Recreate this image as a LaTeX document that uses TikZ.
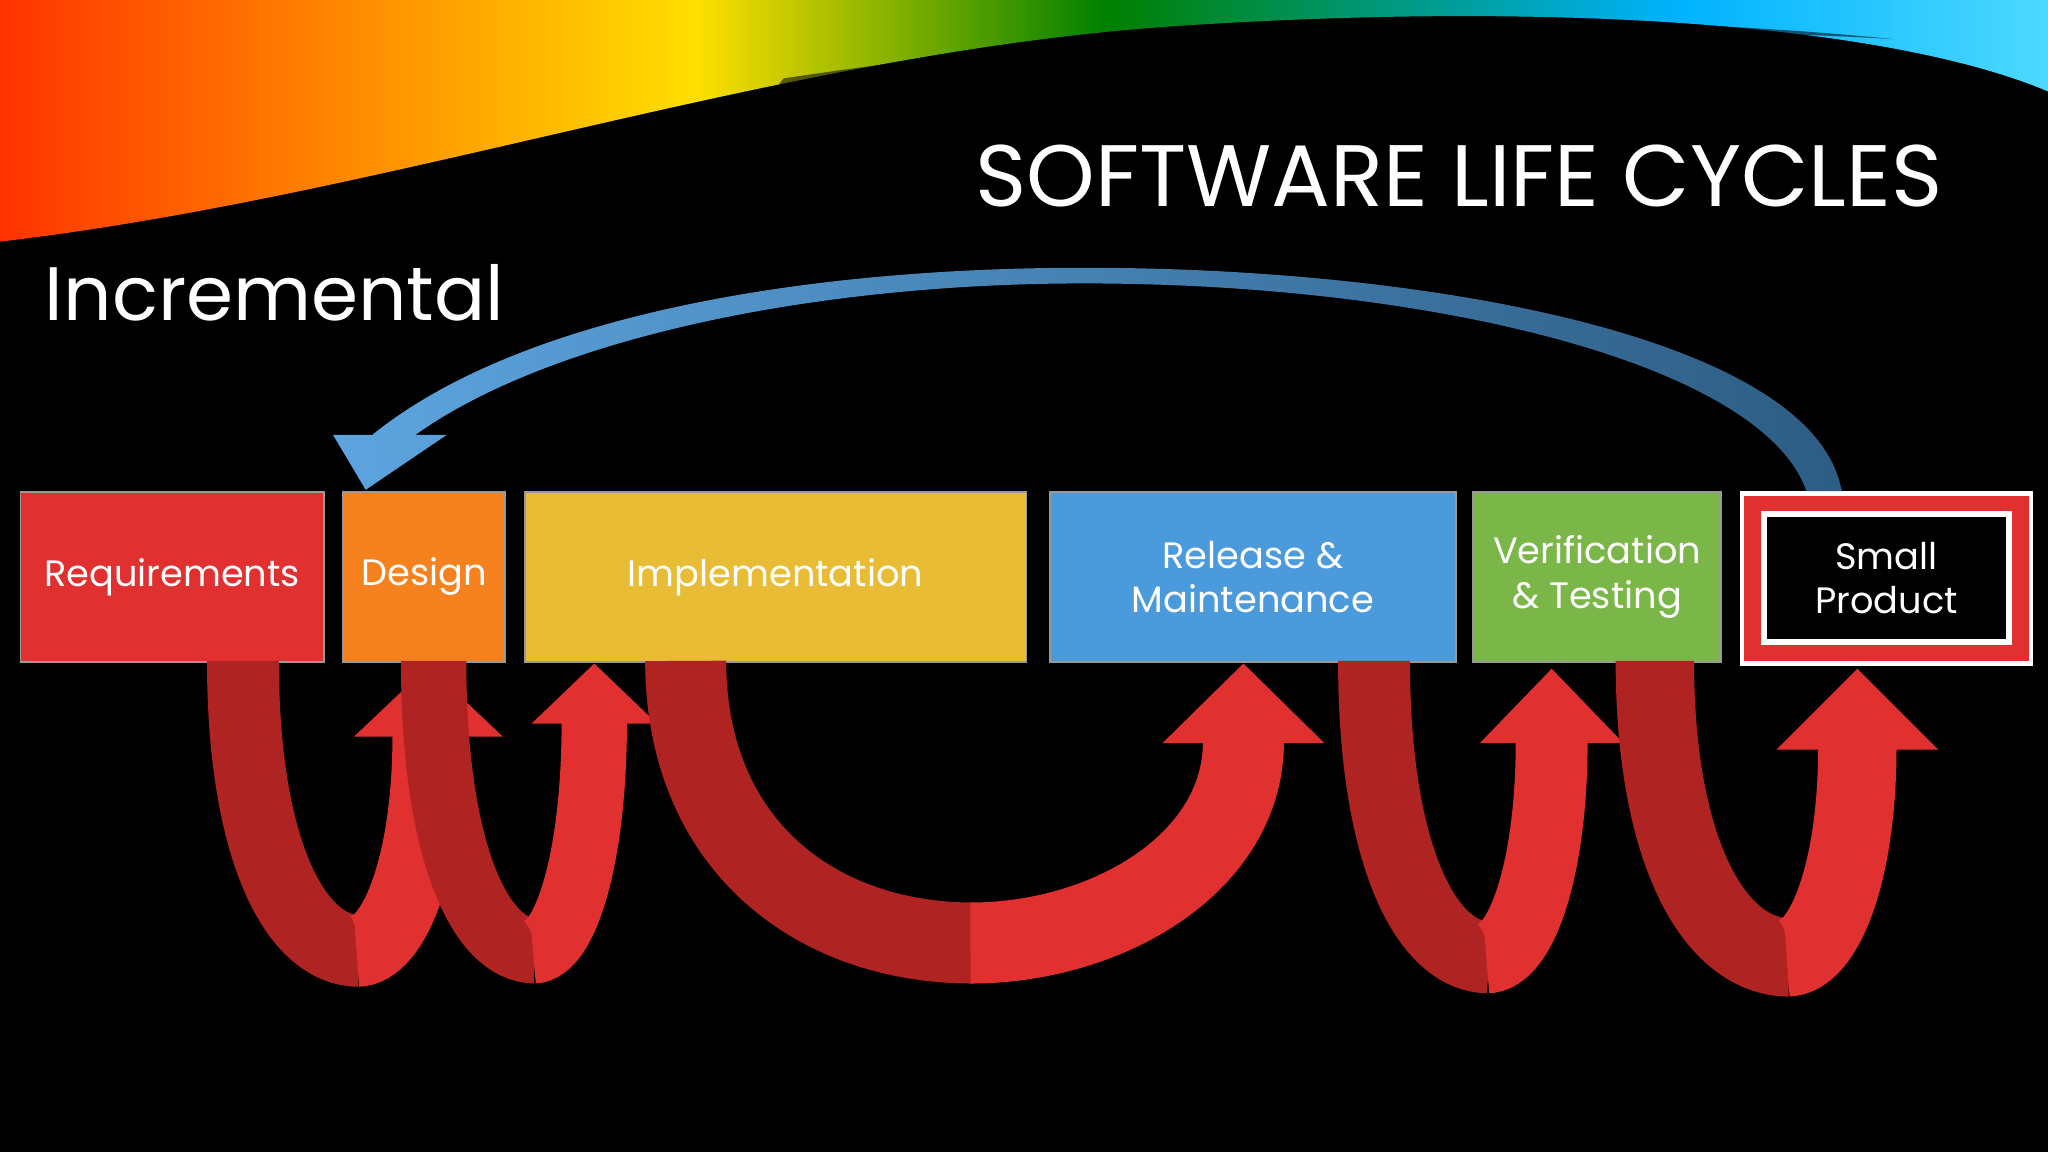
\documentclass[tikz,border=0pt]{standalone}
\usepackage{fontspec}
\setmainfont{Poppins}
\definecolor{cReq}{HTML}{E0302F}
\definecolor{cDes}{HTML}{F5821F}
\definecolor{cImp}{HTML}{E8BC35}
\definecolor{cRel}{HTML}{4B9ADB}
\definecolor{cVer}{HTML}{7AB648}
\definecolor{rDark}{HTML}{B02323}
\definecolor{rLight}{HTML}{E0302F}
\pgfdeclarehorizontalshading{rainbow}{100bp}{color(0bp)=(red!80!black); color(20bp)=(red); color(30bp)=(orange!80!red); color(42bp)=(yellow!75!orange); color(52bp)=(green!50!black); color(66bp)=(cyan!70!blue); color(84bp)=(cyan!40); color(100bp)=(white)}
\tikzset{
  phase/.style={draw=black!40, line width=0.4pt, minimum height=1.3cm, inner sep=0pt, text=white, font=\fontsize{8}{9.6}\selectfont, align=center},
  down/.style={draw=rDark, line width=#1, line cap=butt},
  up/.style={draw=rLight, line width=#1, line cap=butt},
}
\newcommand{\uarrow}[9]{%
  \draw[down=#8] (#1,506) .. controls ({#1},{506+0.65*(#3-506)}) and ({#1+0.45*(#2-#1)},{#3}) .. (#2,#3);
  \draw[up=#8] ({#2-2},{#3}) .. controls ({#2+0.5*(#4-#2)},{#3}) and ({#4},{#5+0.6*(#3-#5)}) .. (#4,#5);
  \fill[rLight] ({#4-#7},{#5+1}) -- (#4,#6) -- ({#4+#7},{#5+1}) -- cycle;
}
\begin{document}
\begin{tikzpicture}[x=0.01cm,y=-0.01cm]
\fill[black] (0,0) rectangle (1568,882);
\useasboundingbox (0,0) rectangle (1568,882);
\shade[shading=rainbow] (0,0) -- (1568,0) -- (1568,70) .. controls (1450,20) and (1200,0) .. (900,20) .. controls (600,40) and (300,150) .. (0,185) -- cycle;
\fill[black,opacity=0.55] (600,60) .. controls (900,15) and (1200,5) .. (1450,30) .. controls (1200,15) and (900,30) .. (560,110) -- cycle;
\node[anchor=center,text=white,font=\fontsize{19}{23}\selectfont] (title) at (1117,135) {SOFTWARE LIFE CYCLES};
\node[anchor=west,text=white,font=\fontsize{16.5}{20}\selectfont] (inc) at (22,224) {Incremental};
\node[phase,fill=cReq,anchor=north west,minimum width=2.32cm] (req) at (15,376) {Requirements};
\node[phase,fill=cDes,anchor=north west,minimum width=1.24cm] (des) at (262,376) {Design};
\node[phase,fill=cImp,anchor=north west,minimum width=3.84cm] (imp) at (401,376) {Implementation};
\node[phase,fill=cRel,anchor=north west,minimum width=3.11cm] (rel) at (803,376) {Release \&\\Maintenance};
\node[phase,fill=cVer,anchor=north west,minimum width=1.90cm] (ver) at (1127,376) {Verification\\\& Testing};
\node[draw=white,fill=cReq,line width=1pt,anchor=north west,minimum width=2.21cm,minimum height=1.3cm,inner sep=0pt] (sp) at (1332,376) {};
\node[draw=white,fill=black,line width=1.3pt,minimum width=1.87cm,minimum height=0.98cm,inner sep=0pt,text=white,font=\fontsize{8}{9.6}\selectfont,align=center] (spi) at (sp.center) {Small\\Product};
% blue arrow
\shade[left color=cRel!90!white, right color=cRel!60!black]
 (285,333) .. controls (400,240) and (620,205) .. (830,205) .. controls (1100,205) and (1390,260) .. (1410,376)
 -- (1383,376) .. controls (1350,280) and (1100,217) .. (830,217) .. controls (620,217) and (420,260) .. (318,333)
 -- (342,333) -- (280,375) -- (255,333) -- cycle;
% red arrows
\uarrow{186}{275}{728}{328}{563}{510}{57}{0.55cm}{}
\uarrow{332}{410}{728}{455}{553}{508}{48}{0.5cm}{}
\uarrow{525}{745}{722}{952}{568}{508}{62}{0.62cm}{}
\uarrow{1052}{1140}{733}{1188}{568}{512}{55}{0.55cm}{}
\uarrow{1267}{1370}{733}{1422}{573}{512}{62}{0.6cm}{}
\end{tikzpicture}
\end{document}
